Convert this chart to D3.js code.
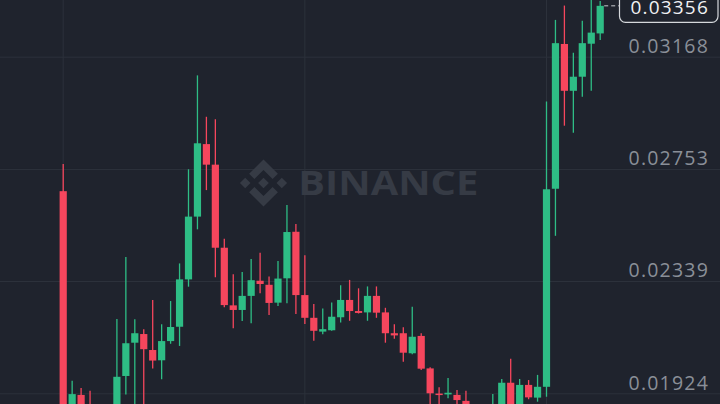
<!DOCTYPE html>
<meta charset="utf-8">
<script src="https://d3js.org/d3.v7.min.js"></script>
<style>
  body { margin: 0; background: #1f232d; }
  svg { display: block; }
</style>
<body>
<div id="chart"></div>
<script>
// candle values, one entry per bar (left to right)
var open = [0.02671, 0.0187, 0.01918, 0.0187, 0.0185, 0.0183, 0.0186, 0.01988, 0.02111, 0.02143,
  0.02084, 0.02046, 0.02117, 0.02170, 0.02345, 0.02577, 0.02845, 0.02769, 0.02462, 0.02249,
  0.02232, 0.02284, 0.02340, 0.02325, 0.02259, 0.02349, 0.02521, 0.02287, 0.02203, 0.02152,
  0.02157, 0.02205, 0.02269, 0.02228, 0.02223, 0.02284, 0.02223, 0.02146, 0.02146, 0.02072,
  0.02136, 0.02016, 0.01923, 0.01920, 0.01918, 0.01896, 0.0184, 0.0182, 0.0182, 0.0186,
  0.01963, 0.0187, 0.01955, 0.01908, 0.01948, 0.02680, 0.03215, 0.03042, 0.03094, 0.03216,
  0.03254];
var high = [0.02771, 0.01970, 0.01944, 0.01933, 0.01875, 0.01878, 0.02199, 0.02428, 0.02198, 0.02161,
  0.02269, 0.02179, 0.02265, 0.02404, 0.02752, 0.03099, 0.02946, 0.02937, 0.02495, 0.02364,
  0.02372, 0.02420, 0.02443, 0.02356, 0.02413, 0.02620, 0.02550, 0.02434, 0.02254, 0.02237,
  0.02260, 0.02323, 0.02343, 0.02312, 0.02319, 0.02319, 0.02240, 0.02179, 0.02168, 0.02244,
  0.02146, 0.02020, 0.01946, 0.01981, 0.01936, 0.01933, 0.01870, 0.01868, 0.01921, 0.01977,
  0.02052, 0.01977, 0.01973, 0.01992, 0.03002, 0.03304, 0.03357, 0.03183, 0.03301, 0.03396,
  0.03374];
var low = [0.0181, 0.0184, 0.0184, 0.0182, 0.0180, 0.0181, 0.0184, 0.01920, 0.0186, 0.0185,
  0.02016, 0.01976, 0.02107, 0.02099, 0.02318, 0.02530, 0.02675, 0.02353, 0.02242, 0.02164,
  0.02191, 0.02183, 0.02294, 0.02213, 0.02247, 0.02257, 0.02217, 0.02180, 0.02118, 0.02142,
  0.02155, 0.02186, 0.02192, 0.02219, 0.02192, 0.02203, 0.02111, 0.02126, 0.02041, 0.02068,
  0.02010, 0.0187, 0.0187, 0.01906, 0.01877, 0.0184, 0.0181, 0.0180, 0.0180, 0.0184,
  0.0185, 0.0185, 0.01902, 0.01893, 0.01911, 0.02506, 0.02913, 0.02887, 0.03020, 0.03042,
  0.03230];
var close = [0.0184, 0.01921, 0.0186, 0.0185, 0.0183, 0.0186, 0.01985, 0.02109, 0.02146, 0.02087,
  0.02045, 0.02117, 0.02169, 0.02345, 0.02577, 0.02848, 0.02769, 0.02462, 0.02250, 0.02232,
  0.02284, 0.02342, 0.02328, 0.02258, 0.02348, 0.02520, 0.02287, 0.02203, 0.02155, 0.02161,
  0.02207, 0.02269, 0.02228, 0.02221, 0.02284, 0.02222, 0.02146, 0.02138, 0.02074, 0.02133,
  0.02015, 0.01924, 0.01918, 0.01926, 0.01899, 0.0186, 0.0183, 0.0184, 0.0187, 0.01963,
  0.0187, 0.01955, 0.01909, 0.01948, 0.02678, 0.03218, 0.03042, 0.03094, 0.03218, 0.03257,
  0.03356];

var yTicks = [0.01924, 0.02339, 0.02753, 0.03168];
var timeGridIdx = [0, 27, 54];   // bars where the vertical grid lines sit
var lastPrice = 0.03356;

var width = 720, height = 404;
var up = '#2ebd85', down = '#f6465d';

var svg = d3.select('#chart').append('svg')
    .attr('width', width)
    .attr('height', height);

svg.append('rect')
    .attr('width', width).attr('height', height)
    .attr('fill', '#1f232d');

var x = d3.scaleLinear()
    .domain([0, open.length - 1])
    .range([63.2, 600.2]);

var y = d3.scaleLinear()
    .domain([0.01924, 0.03168])
    .range([393.3, 56.7]);

// vertical grid
svg.selectAll('.vgrid')
    .data(timeGridIdx)
    .enter().append('line')
    .attr('class', 'vgrid')
    .attr('x1', d => x(d)).attr('x2', d => x(d))
    .attr('y1', 0).attr('y2', height)
    .attr('stroke', '#2c313b').attr('stroke-width', 1);

// horizontal grid + price labels
var yAxis = svg.append('g')
    .attr('transform', 'translate(' + width + ',0)')
    .call(d3.axisLeft(y).tickValues(yTicks).tickSize(width).tickFormat(d3.format('.5f')));
yAxis.select('.domain').remove();
yAxis.selectAll('line').attr('stroke', '#2c313b');
yAxis.selectAll('text')
    .attr('x', -11)
    .attr('dy', null)
    .attr('y', -4.3)
    .attr('fill', '#8a8f98')
    .style('font-family', '"Open Sans", sans-serif')
    .style('font-size', '19.5px')
    .style('letter-spacing', '1.2px');

// watermark
var wm = svg.append('g').attr('fill', '#363b45');
wm.append('path')
    .attr('transform', 'translate(263.5,183) scale(0.36) translate(-64,-64)')
    .attr('d', 'M38.73 53.2L64 27.93l25.28 25.28 14.7-14.7L64 -1.47 24.03 38.5z' +
               'M-1.47 64l14.7-14.7L27.93 64l-14.7 14.7z' +
               'M38.73 74.8L64 100.07l25.28-25.28 14.71 14.69L64 129.47 24.03 89.51z' +
               'M100.07 64l14.7-14.7 14.7 14.7-14.7 14.7z' +
               'M78.91 63.99L64 49.07 49.07 64 64 78.93z');
wm.append('text')
    .attr('x', 298.3).attr('y', 195)
    .attr('textLength', 180).attr('lengthAdjust', 'spacingAndGlyphs')
    .style('font-family', '"Open Sans", sans-serif')
    .style('font-weight', 700)
    .style('font-size', '34px')
    .text('BINANCE');

// candles
var idx = d3.range(open.length);
var color = i => close[i] >= open[i] ? up : down;

svg.selectAll('.wick')
    .data(idx)
    .enter().append('line')
    .attr('class', 'wick')
    .attr('x1', i => x(i)).attr('x2', i => x(i))
    .attr('y1', i => y(high[i])).attr('y2', i => y(low[i]))
    .attr('stroke', color)
    .attr('stroke-width', 1.3);

svg.selectAll('.body')
    .data(idx)
    .enter().append('rect')
    .attr('class', 'body')
    .attr('x', i => x(i) - 3.6)
    .attr('width', 7.2)
    .attr('y', i => y(Math.max(open[i], close[i])))
    .attr('height', i => Math.max(1.5, Math.abs(y(open[i]) - y(close[i]))))
    .attr('fill', color);

// last price marker
var ly = y(lastPrice);
svg.append('line')
    .attr('x1', x(open.length - 1) + 4).attr('x2', 619)
    .attr('y1', ly).attr('y2', ly)
    .attr('stroke', '#c9ccd1').attr('stroke-width', 1)
    .attr('stroke-dasharray', '4,3');

svg.append('rect')
    .attr('x', 619.5).attr('y', ly - 16.5)
    .attr('width', 98.5).attr('height', 33)
    .attr('rx', 6)
    .attr('fill', '#1f232d')
    .attr('stroke', '#d5d8dc').attr('stroke-width', 1.2);

svg.append('text')
    .attr('x', 709).attr('y', ly + 1.8)
    .attr('dy', '0.35em')
    .attr('text-anchor', 'end')
    .attr('fill', '#f0f1f3')
    .style('font-family', '"Open Sans", sans-serif')
    .style('font-size', '19px')
    .style('letter-spacing', '1.2px')
    .text(d3.format('.5f')(lastPrice));
</script>
</body>
